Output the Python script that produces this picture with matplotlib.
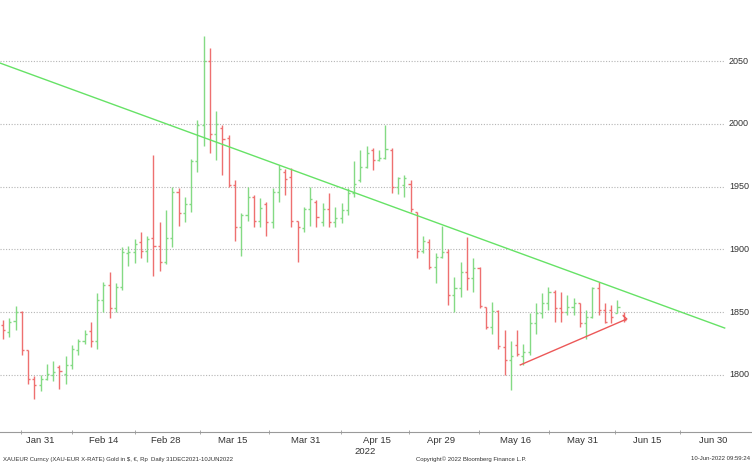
import numpy as np
import matplotlib
matplotlib.use('Agg')
import matplotlib.pyplot as plt

# daily OHLC, Jan 21 -> Jun 10 2022
opens = [1840, 1834, 1843, 1850, 1820, 1797, 1792, 1797, 1800, 1806,
         1801, 1808, 1820, 1827, 1835, 1827, 1860, 1872, 1853, 1870,
         1897, 1898, 1906, 1899, 1909, 1903, 1890, 1909, 1946, 1929,
         1936, 1970, 1999, 2050, 1992, 1997, 1989, 1951, 1918, 1927,
         1942, 1923, 1936, 1922, 1946, 1962, 1958, 1923, 1917, 1932,
         1938, 1922, 1932, 1922, 1925, 1931, 1945, 1955, 1966, 1979,
         1971, 1973, 1979, 1950, 1951, 1952, 1930, 1899, 1906, 1886,
         1894, 1898, 1864, 1869, 1882, 1877, 1885, 1854, 1838, 1851,
         1822, 1812, 1824, 1815, 1818, 1841, 1849, 1857, 1866, 1853,
         1850, 1854, 1857, 1841, 1846, 1869, 1852, 1852, 1849, 1848]
highs = [1844, 1845, 1855, 1851, 1820, 1799, 1800, 1809, 1811, 1808,
         1815, 1824, 1829, 1836, 1842, 1865, 1874, 1882, 1873, 1902,
         1903, 1908, 1914, 1911, 1975, 1922, 1931, 1950, 1949, 1942,
         1972, 2003, 2070, 2060, 2010, 1999, 1991, 1955, 1929, 1950,
         1943, 1941, 1938, 1949, 1967, 1964, 1965, 1923, 1934, 1950,
         1939, 1937, 1945, 1934, 1937, 1949, 1970, 1979, 1982, 1981,
         1979, 1999, 1981, 1958, 1959, 1955, 1930, 1911, 1908, 1897,
         1919, 1900, 1878, 1890, 1910, 1893, 1886, 1854, 1858, 1852,
         1836, 1827, 1836, 1825, 1849, 1857, 1865, 1870, 1868, 1866,
         1864, 1861, 1857, 1852, 1870, 1874, 1857, 1856, 1860, 1850]
lows = [1829, 1830, 1836, 1816, 1793, 1781, 1787, 1796, 1795, 1789,
        1793, 1805, 1816, 1825, 1822, 1821, 1850, 1845, 1850, 1868,
        1887, 1889, 1893, 1890, 1879, 1883, 1888, 1902, 1919, 1922,
        1930, 1962, 1982, 1977, 1971, 1959, 1950, 1907, 1895, 1923,
        1918, 1918, 1911, 1917, 1938, 1943, 1918, 1890, 1914, 1919,
        1918, 1919, 1918, 1918, 1921, 1927, 1942, 1954, 1965, 1963,
        1970, 1972, 1945, 1944, 1942, 1930, 1893, 1897, 1884, 1873,
        1893, 1856, 1850, 1862, 1868, 1866, 1853, 1837, 1833, 1821,
        1800, 1788, 1815, 1808, 1816, 1833, 1845, 1852, 1842, 1842,
        1848, 1848, 1838, 1829, 1845, 1848, 1841, 1841, 1849, 1842]
closes = [1836, 1842, 1850, 1820, 1797, 1792, 1797, 1801, 1802, 1803,
          1808, 1821, 1827, 1833, 1827, 1860, 1872, 1853, 1870, 1898,
          1898, 1904, 1899, 1908, 1903, 1890, 1909, 1946, 1929, 1936,
          1970, 1999, 2050, 1992, 2000, 1988, 1951, 1918, 1927, 1942,
          1923, 1933, 1922, 1946, 1964, 1956, 1923, 1918, 1932, 1940,
          1926, 1932, 1922, 1925, 1931, 1945, 1952, 1966, 1977, 1971,
          1973, 1980, 1950, 1957, 1957, 1932, 1899, 1907, 1886, 1894,
          1898, 1864, 1869, 1882, 1877, 1885, 1855, 1838, 1851, 1823,
          1812, 1815, 1817, 1818, 1841, 1849, 1857, 1866, 1853, 1850,
          1854, 1857, 1841, 1846, 1869, 1852, 1842, 1846, 1854, 1844]

date_labels = ['Jan 31', 'Feb 14', 'Feb 28', 'Mar 15', 'Mar 31', 'Apr 15',
               'Apr 29', 'May 16', 'May 31', 'Jun 15', 'Jun 30']
price_ticks = [1800, 1850, 1900, 1950, 2000, 2050]

# trend lines (bar index, price)
resist_x = [-0.48, 115.1]
resist_y = [2048.4, 1837.4]
support_x = [82.5, 99.5, 99.0]
support_y = [1808.0, 1844.6, 1846.8]

# layout (bar index of each date label)
label_pos = [5.9, 16.1, 26.0, 36.7, 48.2, 59.6, 69.9, 81.8, 92.4, 102.7, 113.2]

GREEN = '#84da84'
RED = '#ee7070'

o = np.array(opens); h = np.array(highs); l = np.array(lows); c = np.array(closes)
idx = np.arange(len(o))
cols = [GREEN if cc >= oo else RED for oo, cc in zip(o, c)]

fig = plt.figure(figsize=(7.52, 4.63), dpi=100)
ax = fig.add_axes([0, 31/463, 1, 432/463])
ax.set_xlim(-0.48, 119.46)
ax.set_ylim(1754.6, 2098.6)

# dotted grid, stops before the price labels
ax.hlines(price_ticks, -0.48, 115.1, colors='#b5b5b5', linestyles=(0, (1, 1.5)), linewidth=0.8, zorder=1)
for p in price_ticks:
    ax.text(115.8, p, str(p), fontsize=6.5, color='#333333', va='center', ha='left', family='Liberation Sans')

# OHLC bars
tk = 0.33
ax.vlines(idx, l, h, colors=cols, linewidth=1.0, zorder=3)
ax.hlines(o, idx - tk, idx, colors=cols, linewidth=1.0, zorder=3)
ax.hlines(c, idx, idx + tk, colors=cols, linewidth=1.0, zorder=3)

ax.plot(resist_x, resist_y, color='#66e266', linewidth=1.0, zorder=4)
ax.plot(support_x, support_y, color='#ec5858', linewidth=1.0, zorder=4)

for s in ['top', 'left', 'right']:
    ax.spines[s].set_visible(False)
ax.spines['bottom'].set_color('#9a9a9a')
ax.spines['bottom'].set_linewidth(0.8)
ax.set_yticks([])
ax.set_xticks(label_pos)
ax.set_xticklabels(date_labels, fontsize=6.8, color='#333333', family='Liberation Sans')
ax.tick_params(axis='x', length=0, pad=3)
mids = [(a + b) / 2 for a, b in zip([-0.2] + label_pos[:-1], label_pos)]
ax.set_xticks(mids, minor=True)
ax.tick_params(axis='x', which='minor', length=2.5, direction='inout', color='#9a9a9a')

fig.text(365/752, 1 - 451/463, '2022', fontsize=6.8, color='#333333', ha='center', va='center', family='Liberation Sans')
fig.text(3/752, 1 - 459/463, 'XAUEUR Curncy (XAU-EUR X-RATE) Gold in $, \u20ac, Rp  Daily 31DEC2021-10JUN2022',
         fontsize=4.3, color='#333333', ha='left', va='center', family='Liberation Sans')
fig.text(471/752, 1 - 459/463, 'Copyright\u00a9 2022 Bloomberg Finance L.P.', fontsize=4.3, color='#333333',
         ha='center', va='center', family='Liberation Sans')
fig.text(750/752, 1 - 459/463, '10-Jun-2022 09:59:24', fontsize=4.3, color='#333333',
         ha='right', va='center', family='Liberation Sans')

fig.savefig('out.png', dpi=100)
